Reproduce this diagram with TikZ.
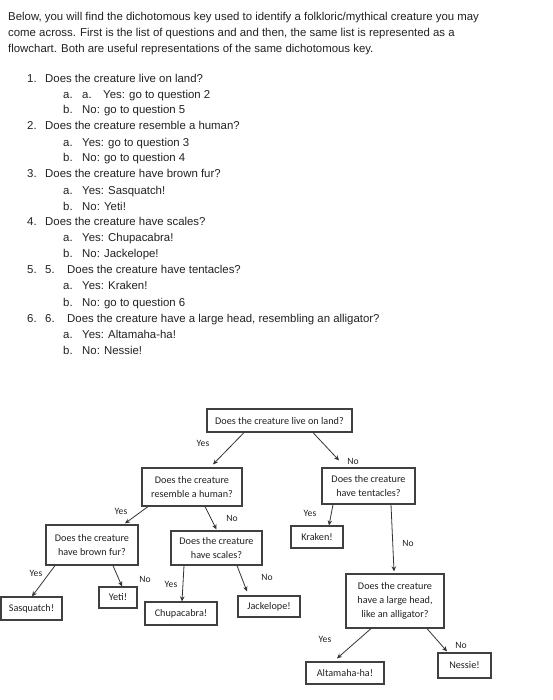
\documentclass[tikz,border=0pt]{standalone}
\usepackage{fontspec}
\setmainfont{Liberation Sans}
\newfontfamily\flowfont{Carlito}
\usetikzlibrary{arrows.meta}
\definecolor{txt}{HTML}{222222}
\definecolor{boxc}{HTML}{404040}
\definecolor{arrc}{HTML}{333333}
\begin{document}
\begin{tikzpicture}[x=1pt,y=-1pt,
  para/.style={font=\fontsize{11.4}{13}\selectfont, text=txt, inner sep=0, anchor=base west},
  box/.style={draw=boxc, line width=1.2pt, font=\flowfont\fontsize{10.2}{14}\selectfont, text=txt, align=center, inner sep=0},
  lbl/.style={font=\flowfont\fontsize{9.6}{11}\selectfont, text=txt, inner sep=0},
  arr/.style={draw=arrc, line width=0.8pt, -{Stealth[length=5pt,width=4.5pt]}}]
\useasboundingbox[fill=white] (0,0) rectangle (552,700);
% paragraph
\node[para] (p1) at (8,21) {Below, you will find the dichotomous key used to identify a folkloric/mythical creature you may};
\node[para] (p2) at (8,37) {come across. First is the list of questions and and then, the same list is represented as a};
\node[para] (p3) at (8,53) {flowchart. Both are useful representations of the same dichotomous key.};
% list
\node[para] (n1) at (27,83) {1.};  \node[para] (q1) at (45,83) {Does the creature live on land?};
\node[para] (n1a) at (63,99) {a.}; \node[para] (n1a2) at (82,99) {a.}; \node[para] (t1a) at (103,99) {Yes: go to question 2};
\node[para] (n1b) at (63,114) {b.}; \node[para] (t1b) at (82,114) {No: go to question 5};
\node[para] (n2) at (27,130) {2.};  \node[para] (q2) at (45,130) {Does the creature resemble a human?};
\node[para] (n2a) at (63,147) {a.}; \node[para] (t2a) at (82,147) {Yes: go to question 3};
\node[para] (n2b) at (63,162) {b.}; \node[para] (t2b) at (82,162) {No: go to question 4};
\node[para] (n3) at (27,178) {3.};  \node[para] (q3) at (45,178) {Does the creature have brown fur?};
\node[para] (n3a) at (63,195) {a.}; \node[para] (t3a) at (82,195) {Yes: Sasquatch!};
\node[para] (n3b) at (63,211) {b.}; \node[para] (t3b) at (82,211) {No: Yeti!};
\node[para] (n4) at (27,226) {4.};  \node[para] (q4) at (45,226) {Does the creature have scales?};
\node[para] (n4a) at (63,242) {a.}; \node[para] (t4a) at (82,242) {Yes: Chupacabra!};
\node[para] (n4b) at (63,258) {b.}; \node[para] (t4b) at (82,258) {No: Jackelope!};
\node[para] (n5) at (27,273) {5.};  \node[para] (n52) at (45,273) {5.}; \node[para] (q5) at (67,273) {Does the creature have tentacles?};
\node[para] (n5a) at (63,289) {a.}; \node[para] (t5a) at (82,289) {Yes: Kraken!};
\node[para] (n5b) at (63,306) {b.}; \node[para] (t5b) at (82,306) {No: go to question 6};
\node[para] (n6) at (27,322) {6.};  \node[para] (n62) at (45,322) {6.}; \node[para] (q6) at (67,322) {Does the creature have a large head, resembling an alligator?};
\node[para] (n6a) at (63,338) {a.}; \node[para] (t6a) at (82,338) {Yes: Altamaha-ha!};
\node[para] (n6b) at (63,354) {b.}; \node[para] (t6b) at (82,354) {No: Nessie!};
% flowchart boxes
\node[box, minimum width=145pt, minimum height=23pt] (b1) at (279.5,420.5) {Does the creature live on land?};
\node[box, minimum width=100pt, minimum height=38pt] (b2) at (192,487) {Does the creature\\resemble a human?};
\node[box, minimum width=93pt, minimum height=36pt] (b3) at (368.5,486) {Does the creature\\have tentacles?};
\node[box, minimum width=92pt, minimum height=40pt] (b4) at (92,545) {Does the creature\\have brown fur?};
\node[box, minimum width=91pt, minimum height=34pt] (b5) at (216.5,548) {Does the creature\\have scales?};
\node[box, minimum width=52pt, minimum height=22pt] (kr) at (317,537) {Kraken!};
\node[box, minimum width=61pt, minimum height=23pt] (sq) at (31.5,608.5) {Sasquatch!};
\node[box, minimum width=38pt, minimum height=21pt] (ye) at (118,597.5) {Yeti!};
\node[box, minimum width=72pt, minimum height=23pt] (ch) at (181,613.5) {Chupacabra!};
\node[box, minimum width=62pt, minimum height=21pt] (ja) at (269,606.5) {Jackelope!};
\node[box, minimum width=98pt, minimum height=54pt] (b6) at (395,601) {Does the creature\\have a large head,\\like an alligator?};
\node[box, minimum width=78pt, minimum height=22pt] (al) at (345,673) {Altamaha-ha!};
\node[box, minimum width=53pt, minimum height=25pt] (ne) at (464.5,665.5) {Nessie!};
% connectors
\draw[arr] ([xshift=-35.5pt]b1.south) -- ([xshift=21pt,yshift=3pt]b2.north);
\draw[arr] ([xshift=33.5pt]b1.south) -- ([xshift=-29.5pt,yshift=7pt]b3.north);
\draw[arr] ([xshift=-44pt]b2.south) -- ([xshift=33pt,yshift=1pt]b4.north);
\draw[arr] ([xshift=13pt]b2.south) -- ([xshift=0pt,yshift=1pt]b5.north);
\draw[arr] ([xshift=-35.5pt]b3.south) -- ([xshift=12pt]kr.north);
\draw[arr] ([xshift=22.5pt]b3.south) -- ([xshift=-1pt,yshift=2pt]b6.north);
\draw[arr] ([xshift=-37pt]b4.south) -- ([xshift=0.5pt]sq.north);
\draw[arr] ([xshift=21pt]b4.south) -- ([xshift=4pt]ye.north);
\draw[arr] ([xshift=-32.5pt]b5.south) -- ([xshift=1pt]ch.north);
\draw[arr] ([xshift=20.5pt]b5.south) -- ([xshift=-22pt,yshift=4pt]ja.north);
\draw[arr] ([xshift=-24pt]b6.south) -- ([xshift=-8pt,yshift=3pt]al.north);
\draw[arr] ([xshift=32pt]b6.south) -- ([xshift=-17.5pt,yshift=1pt]ne.north);
% labels
\node[lbl] (l1) at (203,443) {Yes};
\node[lbl] (l2) at (353,461) {No};
\node[lbl] (l3) at (121,511) {Yes};
\node[lbl] (l4) at (232,518) {No};
\node[lbl] (l5) at (310,513) {Yes};
\node[lbl] (l6) at (408,543) {No};
\node[lbl] (l7) at (36,573) {Yes};
\node[lbl] (l8) at (145,579) {No};
\node[lbl] (l9) at (171,584) {Yes};
\node[lbl] (l10) at (267,577) {No};
\node[lbl] (l11) at (325,639) {Yes};
\node[lbl] (l12) at (461,645) {No};
\end{tikzpicture}
\end{document}
